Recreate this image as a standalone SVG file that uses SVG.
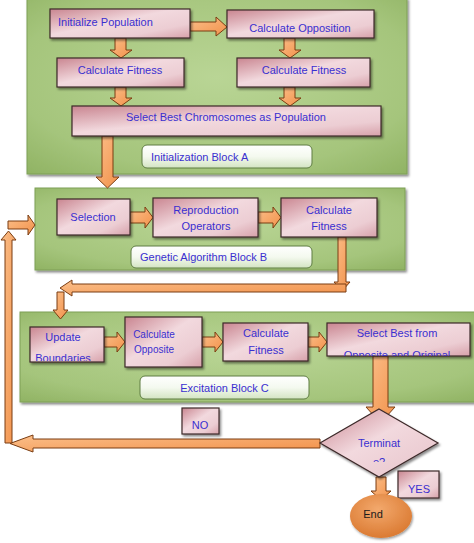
<svg xmlns="http://www.w3.org/2000/svg" width="474" height="543" viewBox="0 0 474 543">
<defs>
<radialGradient id="gGreen" cx="50%" cy="45%" r="75%">
<stop offset="0" stop-color="#b9d595"/>
<stop offset="0.7" stop-color="#a5c57c"/>
<stop offset="1" stop-color="#8fb262"/>
</radialGradient>
<linearGradient id="gPink" x1="0" y1="0" x2="1" y2="1">
<stop offset="0" stop-color="#c98590"/>
<stop offset="0.45" stop-color="#f2d9de"/>
<stop offset="0.75" stop-color="#eccdd3"/>
<stop offset="1" stop-color="#d7a1aa"/>
</linearGradient>
<linearGradient id="gLabel" x1="0" y1="0" x2="0" y2="1">
<stop offset="0" stop-color="#ffffff"/>
<stop offset="0.5" stop-color="#f4f9ef"/>
<stop offset="1" stop-color="#d3e4c2"/>
</linearGradient>
<linearGradient id="gOrange" x1="0" y1="0" x2="1" y2="1">
<stop offset="0" stop-color="#fbbf8a"/>
<stop offset="1" stop-color="#f2914a"/>
</linearGradient>
<radialGradient id="gEnd" cx="45%" cy="35%" r="70%">
<stop offset="0" stop-color="#f3a96d"/>
<stop offset="1" stop-color="#d9772e"/>
</radialGradient>
<filter id="sh" x="-10%" y="-10%" width="130%" height="140%">
<feDropShadow dx="1.5" dy="2" stdDeviation="1" flood-color="#000" flood-opacity="0.45"/>
</filter>
<filter id="shs" x="-10%" y="-10%" width="130%" height="140%">
<feDropShadow dx="1" dy="1.5" stdDeviation="0.8" flood-color="#000" flood-opacity="0.4"/>
</filter>
<clipPath id="cSel"><rect x="327" y="323" width="143" height="33"/></clipPath>
<clipPath id="cUpd"><rect x="30" y="327" width="74" height="34"/></clipPath>
<clipPath id="cTerm"><rect x="330" y="452" width="100" height="10"/></clipPath>
</defs>
<style>
.blk{fill:url(#gGreen);stroke:#7f9f57;stroke-width:1;filter:url(#sh)}
.box{fill:url(#gPink);stroke:#3d2a2a;stroke-width:1.2;filter:url(#sh)}
.lbl{fill:url(#gLabel);stroke:#5f7d43;stroke-width:1}
.arr{fill:url(#gOrange);stroke:#7a3d12;stroke-width:1;stroke-linejoin:miter}
.t{font-family:"Liberation Sans",Arial,sans-serif;font-size:11px;fill:#3a2fd0}
.c{text-anchor:middle}
.s{font-size:10px}
</style>

<g id="blockA">
<rect class="blk" x="27" y="-2" width="380" height="176"/>
</g>
<g id="blockB">
<rect class="blk" x="35" y="188" width="370" height="82"/>
</g>
<g id="blockC">
<rect class="blk" x="20" y="312" width="456" height="90"/>
</g>

<g id="connectors">
<polygon class="arr" points="190,22 216,22 216,17 227,27 216,36 216,31 190,31"/>
<polygon class="arr" points="115,38 126,38 126,50 132,50 121,58 110,50 115,50"/>
<polygon class="arr" points="284,38 295,38 295,50 301,50 290,58 279,50 284,50"/>
<polygon class="arr" points="115,87 126,87 126,98 132,98 121,106 110,98 115,98"/>
<polygon class="arr" points="284,87 295,87 295,98 301,98 290,106 279,98 284,98"/>
<polygon class="arr" points="102,136 113,136 113,177 119,177 107.5,188 96,177 102,177"/>
<polygon class="arr" points="130,212 145,212 145,207 153,217.5 145,228 145,223 130,223"/>
<polygon class="arr" points="258,212 273,212 273,207 281,217.5 273,228 273,223 258,223"/>
<polygon class="arr" points="338,237 346,237 346,282 350,282 342,291 334,282 338,282"/>
<polygon class="arr" points="346,284 346,292 72,292 72,296 60,288 72,280 72,284"/>
<polygon class="arr" points="57,292 64,292 64,310 68,310 60.5,319 53,310 57,310"/>
<polygon class="arr" points="104,337 117,337 117,332 125,342 117,352 117,347 104,347"/>
<polygon class="arr" points="202,337 215,337 215,332 223,342 215,352 215,347 202,347"/>
<polygon class="arr" points="308,337 319,337 319,332 327,342 319,352 319,347 308,347"/>
<polygon class="arr" points="373,356 388,356 388,407 395,407 380.5,423 366,407 373,407"/>
<polygon class="arr" points="376,477 386,477 386,491 391,491 381,500 371,491 376,491"/>
<polygon class="arr" points="320,439 320,448 33,448 33,452 10,443.5 33,435 33,439"/>
<polygon class="arr" points="5,443 12,443 12,240 16,240 8.5,231 1,240 5,240"/>
<polygon class="arr" points="8,221 28,221 28,215 35,225 28,235 28,229 8,229"/>
</g>

<g id="n-init"><rect class="box" x="50" y="9" width="140" height="29"/><text class="t" x="58" y="26">Initialize Population</text></g>
<g id="n-opp"><rect class="box" x="227" y="10" width="147" height="28"/><text class="t c" x="300" y="32">Calculate Opposition</text></g>
<g id="n-fit1"><rect class="box" x="57" y="58" width="127" height="29"/><text class="t c" x="120" y="74">Calculate Fitness</text></g>
<g id="n-fit2"><rect class="box" x="237" y="58" width="133" height="29"/><text class="t c" x="304" y="74">Calculate Fitness</text></g>
<g id="n-selbest"><rect class="box" x="72" y="106" width="309" height="30"/><text class="t c" x="226" y="121">Select Best Chromosomes as Population</text></g>
<g id="n-labelA"><rect class="lbl" x="142" y="145" width="170" height="23" rx="5"/><text class="t" x="151" y="161">Initialization Block A</text></g>

<g id="n-selection"><rect class="box" x="57" y="199" width="73" height="36"/><text class="t c" x="93" y="221">Selection</text></g>
<g id="n-repro"><rect class="box" x="153" y="198" width="105" height="39"/><text class="t c" x="206" y="214">Reproduction</text><text class="t c" x="206" y="230">Operators</text></g>
<g id="n-fitB"><rect class="box" x="281" y="198" width="96" height="39"/><text class="t c" x="329" y="214">Calculate</text><text class="t c" x="329" y="230">Fitness</text></g>
<g id="n-labelB"><rect class="lbl" x="131" y="246" width="181" height="22" rx="5"/><text class="t" x="140" y="261">Genetic Algorithm Block B</text></g>

<g id="n-update"><rect class="box" x="30" y="327" width="74" height="35"/><g clip-path="url(#cUpd)"><text class="t c" x="63" y="341">Update</text><text class="t c" x="63" y="362">Boundaries</text></g></g>
<g id="n-calcopp"><rect class="box" x="125" y="317" width="77" height="50"/><text class="t c s" x="154" y="338">Calculate</text><text class="t c s" x="154" y="353">Opposite</text></g>
<g id="n-fitC"><rect class="box" x="223" y="323" width="85" height="38"/><text class="t c" x="266" y="337">Calculate</text><text class="t c" x="266" y="354">Fitness</text></g>
<g id="n-selC"><rect class="box" x="327" y="323" width="143" height="33"/><g clip-path="url(#cSel)"><text class="t c" x="397" y="337">Select Best from</text><text class="t c" x="397" y="359">Opposite and Original</text></g></g>
<g id="n-labelC"><rect class="lbl" x="140" y="376" width="169" height="23" rx="5"/><text class="t c" x="224.5" y="392">Excitation Block C</text></g>

<g id="n-no"><rect class="box" x="182" y="408" width="37" height="26"/><text class="t c" x="200" y="429">NO</text></g>
<g id="n-term"><polygon class="box" points="379,409 438,443 379,477 320,443"/><text class="t c" x="379" y="447">Terminat</text><g clip-path="url(#cTerm)"><text class="t c" x="379" y="466">e?</text></g></g>
<g id="n-yes"><rect class="box" x="398" y="471" width="41" height="27"/><text class="t c" x="419" y="493">YES</text></g>
<g id="n-end"><ellipse cx="381" cy="516" rx="31" ry="22" fill="url(#gEnd)" filter="url(#shs)"/><text x="373" y="518" font-family="Liberation Sans, Arial, sans-serif" font-size="11" fill="#1a1a1a" text-anchor="middle">End</text></g>
</svg>
